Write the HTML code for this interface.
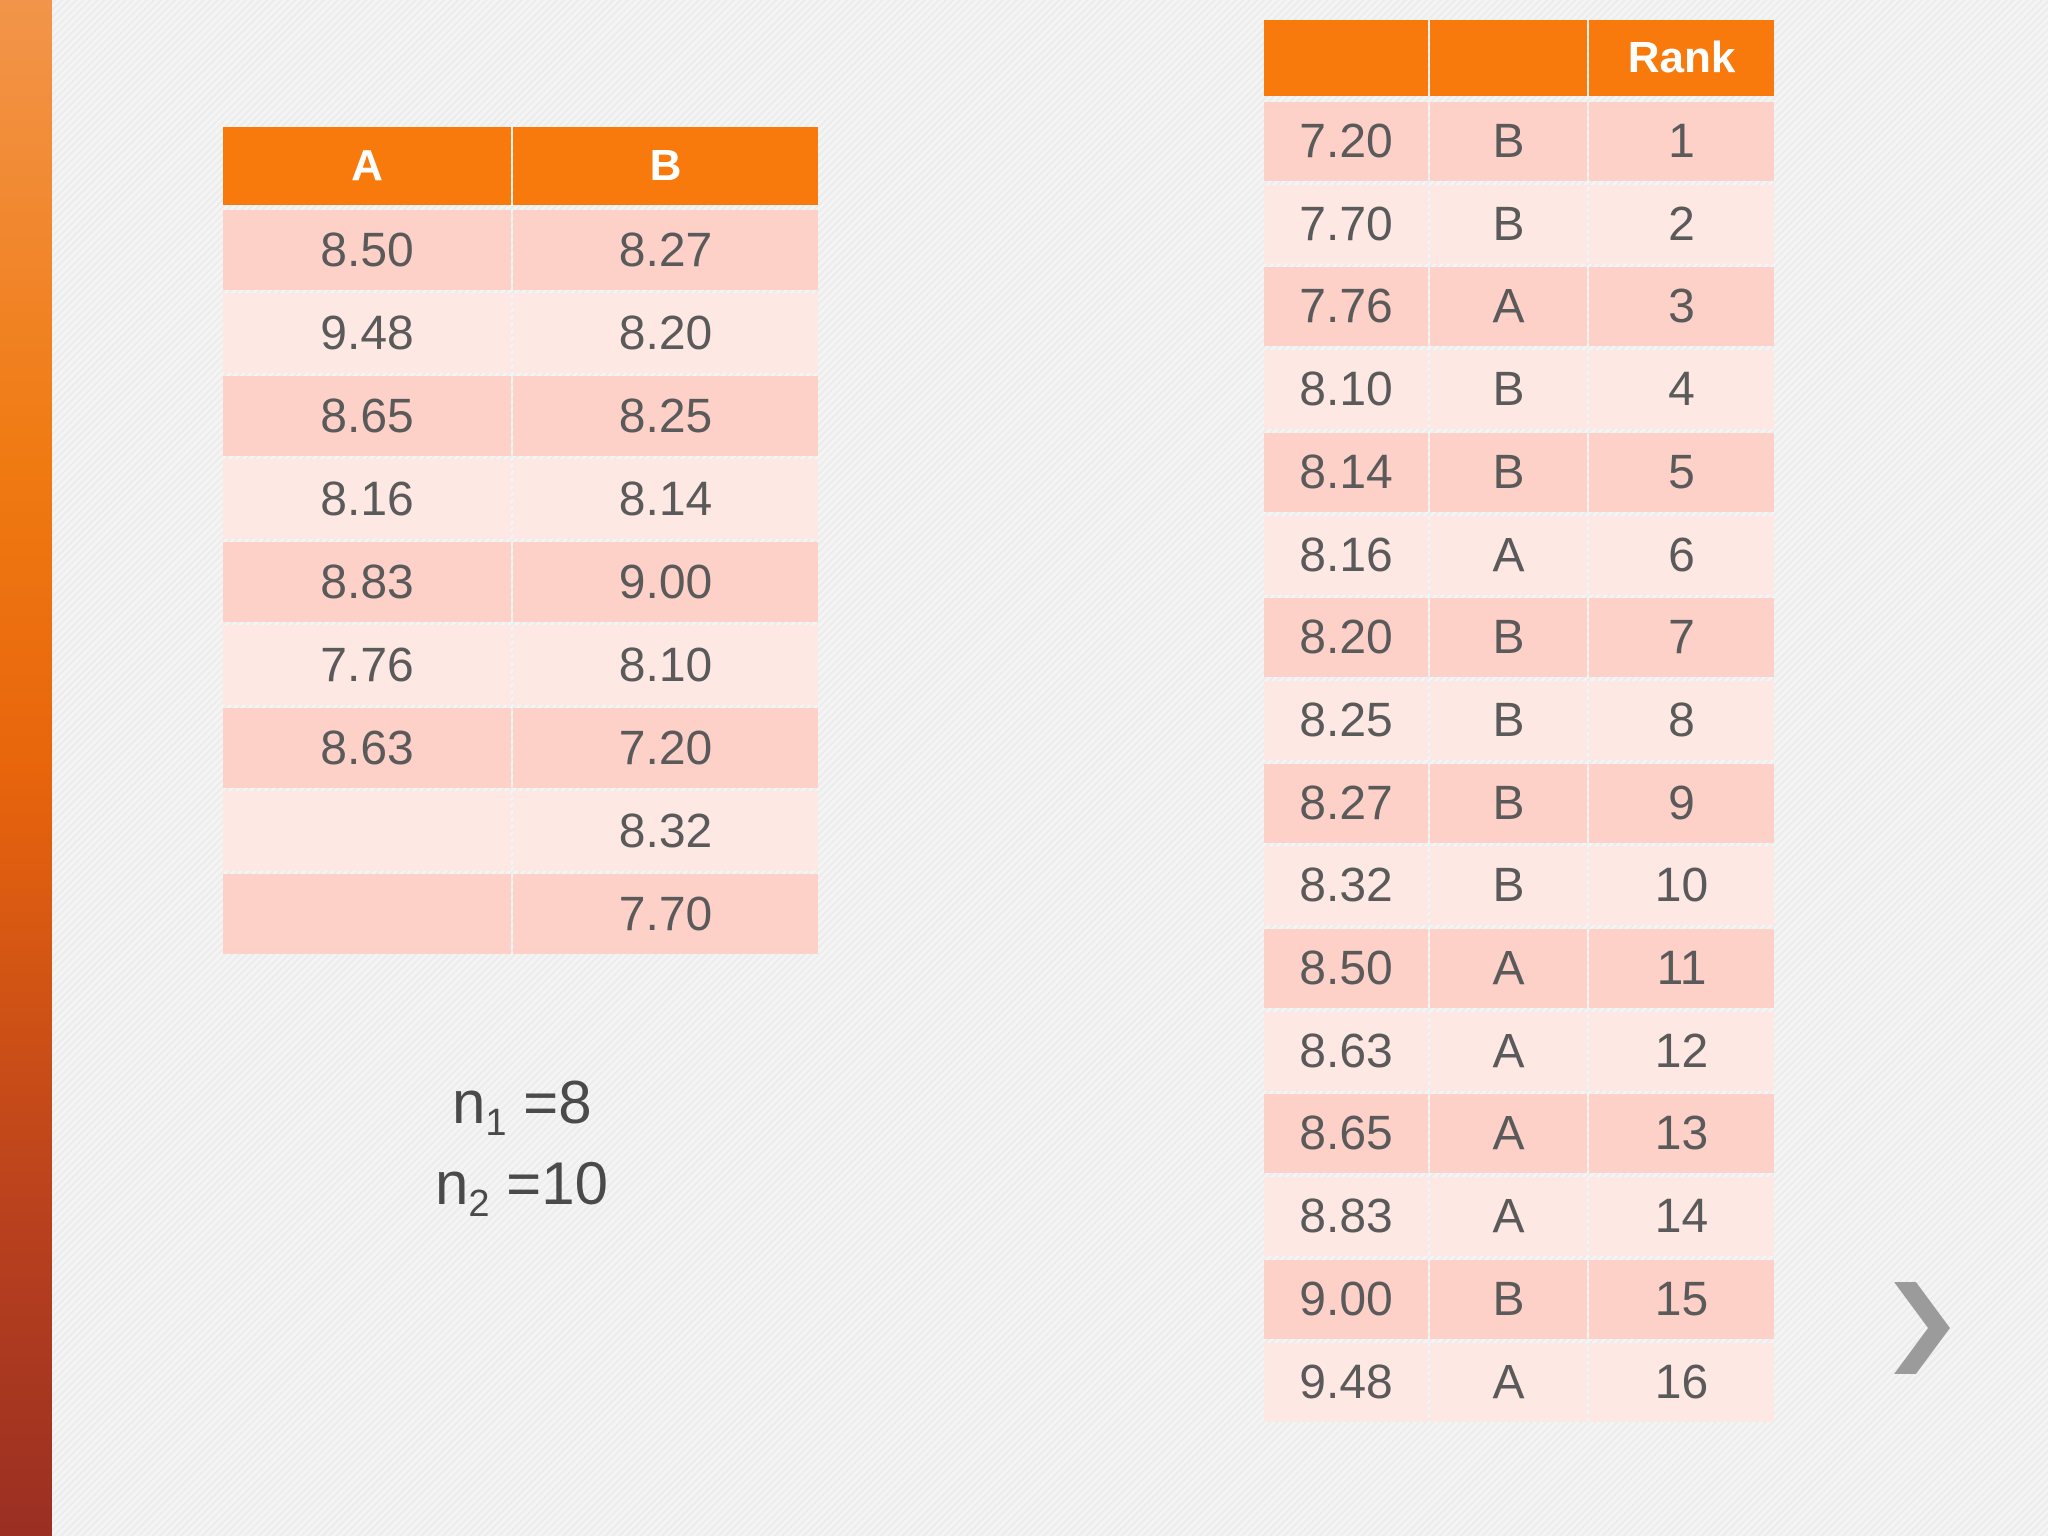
<!DOCTYPE html>
<html><head><meta charset="utf-8">
<style>
body{margin:0;width:2048px;height:1536px;overflow:hidden;position:relative;font-family:"Liberation Sans","DejaVu Sans",sans-serif;
background:repeating-linear-gradient(135deg,#f4f4f4 0 3px,#ececec 3px 5px);}
.bar{position:absolute;left:0;top:0;width:52px;height:1536px;background:linear-gradient(#f2954a 0%,#f07a12 30%,#e8650c 50%,#b8401e 80%,#9a2f22 100%);}
.c{position:absolute;box-sizing:border-box;display:flex;align-items:center;justify-content:center;color:#5a5a5a;font-size:48px;font-family:"Liberation Sans","DejaVu Sans",sans-serif;}
.h{background:#f87a0c;color:#fff;font-weight:bold;font-size:44px;}
.d{background:#fdd0c8;}
.l{background:#fde8e4;}
.n{position:absolute;color:#4a4a4a;font-size:60px;font-family:"Liberation Sans","DejaVu Sans",sans-serif;}
.n sub{font-size:38px;vertical-align:-12px;}
</style></head><body>
<div class="bar"></div>
<div id="t1"></div>
<div id="t2"></div>
<div class="n" style="left:452px;top:1068px">n<sub>1</sub> =8</div>
<div class="n" style="left:435px;top:1149px">n<sub>2</sub> =10</div>
<svg style="position:absolute;left:1890px;top:1278px" width="64" height="100">
<polygon points="4,4 26,4 60,50 26,96 4,96 38,50" fill="#9b9b9b"/></svg>
<script>
const colA=["8.50","9.48","8.65","8.16","8.83","7.76","8.63","",""];
const colB=["8.27","8.20","8.25","8.14","9.00","8.10","7.20","8.32","7.70"];
const vals=["7.20","7.70","7.76","8.10","8.14","8.16","8.20","8.25","8.27","8.32","8.50","8.63","8.65","8.83","9.00","9.48"];
const grp=["B","B","A","B","B","A","B","B","B","B","A","A","A","A","B","A"];
const ranks=["1","2","3","4","5","6","7","8","9","10","11","12","13","14","15","16"];
function cell(parent,x,y,w,h,cls,txt,name){
  const e=document.createElement('div');
  e.className='c '+cls;
  e.style.left=x+'px';e.style.top=y+'px';e.style.width=w+'px';e.style.height=h+'px';
  e.textContent=txt;
  
  
  parent.appendChild(e);
}
const t1=document.getElementById('t1');
const x1=[223,513],w1=[288,305];
cell(t1,x1[0],127,w1[0],78,'h','A','header-a');
cell(t1,x1[1],127,w1[1],78,'h','B','header-b');
for(let i=0;i<colB.length;i++){
  const y=210+i*83, cls=i%2?'l':'d';
  cell(t1,x1[0],y,w1[0],80,cls,colA[i],'cell-a-'+i);
  cell(t1,x1[1],y,w1[1],80,cls,colB[i],'cell-b-'+i);
}
const t2=document.getElementById('t2');
const x2=[1264,1430,1589],w2=[164,157,185];
const hdr=["","","Rank"];
for(let j=0;j<3;j++)cell(t2,x2[j],20,w2[j],76,'h',hdr[j],'rank-header-'+j);
for(let i=0;i<vals.length;i++){
  const y=102+i*82.7, cls=i%2?'l':'d';
  cell(t2,x2[0],y,w2[0],79,cls,vals[i],'value-'+i);
  cell(t2,x2[1],y,w2[1],79,cls,grp[i],'group-'+i);
  cell(t2,x2[2],y,w2[2],79,cls,ranks[i],'rank-'+i);
}
</script>
</body></html>
